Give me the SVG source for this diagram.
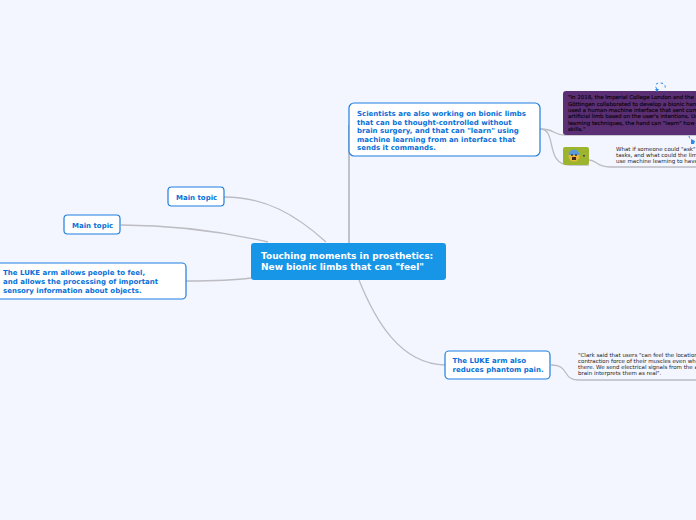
<svg xmlns="http://www.w3.org/2000/svg" width="696" height="520" viewBox="0 0 696 520">
<style>
text{font-family:"DejaVu Sans",sans-serif}
.bg{fill:#f3f6ff}
.c{fill:none;stroke:#bcbcc2;stroke-width:1.3}
.n{fill:#fff;stroke:#1f7fe0;stroke-width:1.2}
.t{font-size:7px;font-weight:700;fill:#0a70d8}
.r{font-size:9px;font-weight:700;fill:#fff}
.s{font-size:5.5px;fill:#222}
.p{font-size:5.45px;fill:#0c0410;stroke:#0c0410;stroke-width:.15px}
.a{fill:none;stroke:#2a8ae8;stroke-width:1;stroke-dasharray:2.5 2.5}
</style>
<rect class="bg" width="696" height="520"/>
<g id="connectors">
<path class="c" d="M349 243V125" style="stroke-width:1.800"/>
<path class="c" d="M326 242C295 214 265 197 224 197"/>
<path class="c" d="M268 242C220 231 170 225 121 225"/>
<path class="c" d="M251 278C230 281 210 281 186 281"/>
<path class="c" d="M359 280C375 320 400 364 445 365"/>
<path class="c" d="M540 129C556 129 552 135 565 135H696"/>
<path class="c" d="M540 129C558 129 544 165 570 165H589"/>
<path class="c" d="M589 160C597 160 596 167 610 167H696"/>
<path class="c" d="M551 365C570 365 562 380 578 380H696"/>
</g>
<g id="node-root">
<rect x="251" y="243" width="195" height="37" rx="3" fill="#1796e8"/>
<text class="r" x="261" y="259">Touching moments in prosthetics:</text>
<text class="r" x="261" y="270">New bionic limbs that can "feel"</text>
</g>
<g id="node-scientists">
<rect class="n" x="349" y="103" width="191" height="53" rx="5"/>
<text class="t" x="357" y="116">Scientists are also working on bionic limbs</text>
<text class="t" x="357" y="124.500">that can be thought-controlled without</text>
<text class="t" x="357" y="133">brain surgery, and that can "learn" using</text>
<text class="t" x="357" y="141.500">machine learning from an interface that</text>
<text class="t" x="357" y="150">sends it commands.</text>
</g>
<g id="node-topic1">
<rect class="n" x="168" y="187" width="56" height="19" rx="3.500"/>
<text class="t" x="176" y="200">Main topic</text>
</g>
<g id="node-topic2">
<rect class="n" x="64" y="215" width="56" height="19" rx="3.500"/>
<text class="t" x="72" y="228">Main topic</text>
</g>
<g id="node-luke-feel">
<rect class="n" x="-12" y="263" width="198" height="36" rx="4"/>
<text class="t" x="3" y="275">The LUKE arm allows people to feel,</text>
<text class="t" x="3" y="284">and allows the processing of important</text>
<text class="t" x="3" y="292.500">sensory information about objects.</text>
</g>
<g id="node-luke-pain">
<rect class="n" x="445" y="351" width="105" height="28" rx="4"/>
<text class="t" x="452.500" y="363">The LUKE arm also</text>
<text class="t" x="452.500" y="372">reduces phantom pain.</text>
</g>
<g id="node-purple">
<rect x="563" y="91" width="145" height="44" rx="3" fill="#5b2f73"/>
<text class="p" x="568" y="99">"In 2018, the Imperial College London and the</text>
<text class="p" x="568" y="105.500">Göttingen collaborated to develop a bionic hand</text>
<text class="p" x="568" y="112">used a human-machine interface that sent com</text>
<text class="p" x="568" y="118">artificial limb based on the user's intentions. Us</text>
<text class="p" x="568" y="124.500">learning techniques, the hand can "learn" how</text>
<text class="p" x="568" y="131">skills."</text>
<path class="a" d="M657 89C654 85 656 83 660 83C664 83 666 85 665 89"/>
<path fill="#2a8ae8" d="M655 89h4l-2 3z"/>
<path class="a" d="M689 136C690 140 691 141 693 142"/>
<path fill="#2a8ae8" d="M691 139l4 2-1 3h-3z"/>
</g>
<g id="node-emoji">
<rect x="563" y="147" width="26" height="18" rx="2" fill="#9db52e"/>
<circle cx="574" cy="156" r="5.500" fill="#e8b83c"/>
<path d="M568.500 155a5.500 5.500 0 0 1 11 0z" fill="#5a9ad8"/>
<rect x="572" y="157" width="4" height="3" fill="#4a2a20"/>
<circle cx="572" cy="155" r="0.900" fill="#333"/>
<circle cx="576" cy="155" r="0.900" fill="#333"/>
<rect x="583" y="155" width="2" height="1.500" fill="#445"/>
</g>
<g id="node-ask">
<text class="s" x="616" y="150.500">What if someone could "ask"</text>
<text class="s" x="616" y="156.500">tasks, and what could the lim</text>
<text class="s" x="616" y="163">use machine learning to have</text>
</g>
<g id="node-clark">
<text class="s" x="578" y="357">"Clark said that users "can feel the location</text>
<text class="s" x="578" y="363">contraction force of their muscles even wh</text>
<text class="s" x="578" y="369">there. We send electrical signals from the a</text>
<text class="s" x="578" y="375">brain interprets them as real".</text>
</g>
</svg>
